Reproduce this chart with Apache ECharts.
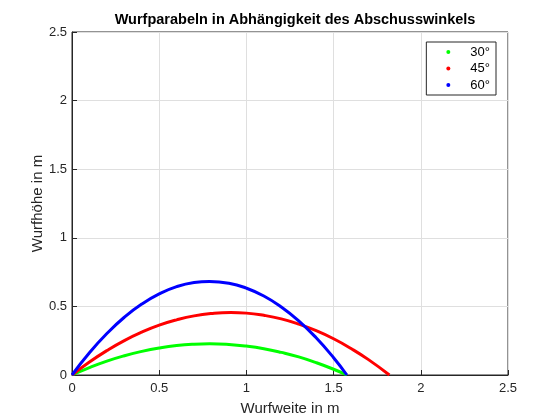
<!DOCTYPE html>
<html><head><meta charset="utf-8">
<script src="https://cdn.jsdelivr.net/npm/echarts@6/dist/echarts.min.js"></script>
<style>html,body{margin:0;padding:0;background:#fff}#c{width:560px;height:420px}</style>
</head><body><div id="c"></div>
<script>
var names = ['30°', '45°', '60°'];
var colors = ['#00ff00', '#ff0000', '#0000ff'];
var x30 = [0, 0.1, 0.2, 0.3, 0.4, 0.5, 0.6, 0.7, 0.79, 0.9, 1.0, 1.1, 1.2, 1.3, 1.4, 1.5, 1.576];
var y30 = [0, 0.054, 0.101, 0.140, 0.172, 0.197, 0.215, 0.225, 0.228, 0.223, 0.211, 0.192, 0.165, 0.132, 0.090, 0.042, 0];
var x45 = [0, 0.1, 0.2, 0.3, 0.4, 0.5, 0.6, 0.7, 0.8, 0.91, 1.0, 1.1, 1.2, 1.3, 1.4, 1.5, 1.6, 1.7, 1.82];
var y45 = [0, 0.0945, 0.178, 0.251, 0.312, 0.363, 0.402, 0.431, 0.448, 0.455, 0.451, 0.435, 0.409, 0.371, 0.323, 0.264, 0.193, 0.112, 0];
var x60 = [0, 0.1, 0.2, 0.3, 0.4, 0.5, 0.6, 0.7, 0.788, 0.9, 1.0, 1.1, 1.2, 1.3, 1.4, 1.5, 1.576];
var y60 = [0, 0.162, 0.302, 0.421, 0.517, 0.591, 0.644, 0.674, 0.682, 0.669, 0.633, 0.576, 0.496, 0.395, 0.271, 0.126, 0];
var xs = [x30, x45, x60], ys = [y30, y45, y60];
var title = 'Wurfparabeln in Abhängigkeit des Abschusswinkels';
var xName = 'Wurfweite in m', yName = 'Wurfhöhe in m';

var font = 'Liberation Sans, Arial, sans-serif';
var chart = echarts.init(document.getElementById('c'));
var axisCommon = {
  type: 'value', min: 0, max: 2.5, interval: 0.5,
  nameLocation: 'middle', nameMoveOverlap: false,
  nameTextStyle: {color: '#262626', fontSize: 15, fontFamily: font},
  axisLine: {show: true, lineStyle: {color: '#262626', width: 1}},
  axisTick: {show: true, inside: true, length: 5, lineStyle: {color: '#262626'}},
  axisLabel: {color: '#262626', fontSize: 13, fontFamily: font, margin: 5},
  splitLine: {show: true, lineStyle: {color: '#dfdfdf', width: 1}}
};
chart.setOption({
  animation: false,
  title: {text: title, left: 290, top: 7, textAlign: 'center',
    textStyle: {fontSize: 14.5, fontWeight: 'bold', color: '#000', fontFamily: font}},
  grid: {left: 72, right: 52, top: 32, bottom: 45, show: true, borderColor: '#262626', borderWidth: 1,
    outerBoundsMode: 'none', containLabel: false},
  legend: {
    data: names, orient: 'vertical', right: 64, top: 42,
    backgroundColor: '#fff', borderColor: '#262626', borderWidth: 1,
    padding: [3.5, 6, 3.5, 20], itemGap: 3.5, itemWidth: 4, itemHeight: 4, icon: 'circle',
    textStyle: {color: '#000', fontSize: 13, fontFamily: font, padding: [0, 0, 0, 15]}
  },
  xAxis: Object.assign({}, axisCommon, {name: xName, nameGap: 26, axisLabel: Object.assign({}, axisCommon.axisLabel, {margin: 7})}),
  yAxis: Object.assign({}, axisCommon, {name: yName, nameGap: 27}),
  series: names.map(function(n, i) {
    return {
      name: n, type: 'line', smooth: true, showSymbol: false, symbol: 'circle',
      itemStyle: {color: colors[i]},
      lineStyle: {color: colors[i], width: 3},
      data: xs[i].map(function(x, j) { return [x, ys[i][j]]; })
    };
  })
});
</script></body></html>
